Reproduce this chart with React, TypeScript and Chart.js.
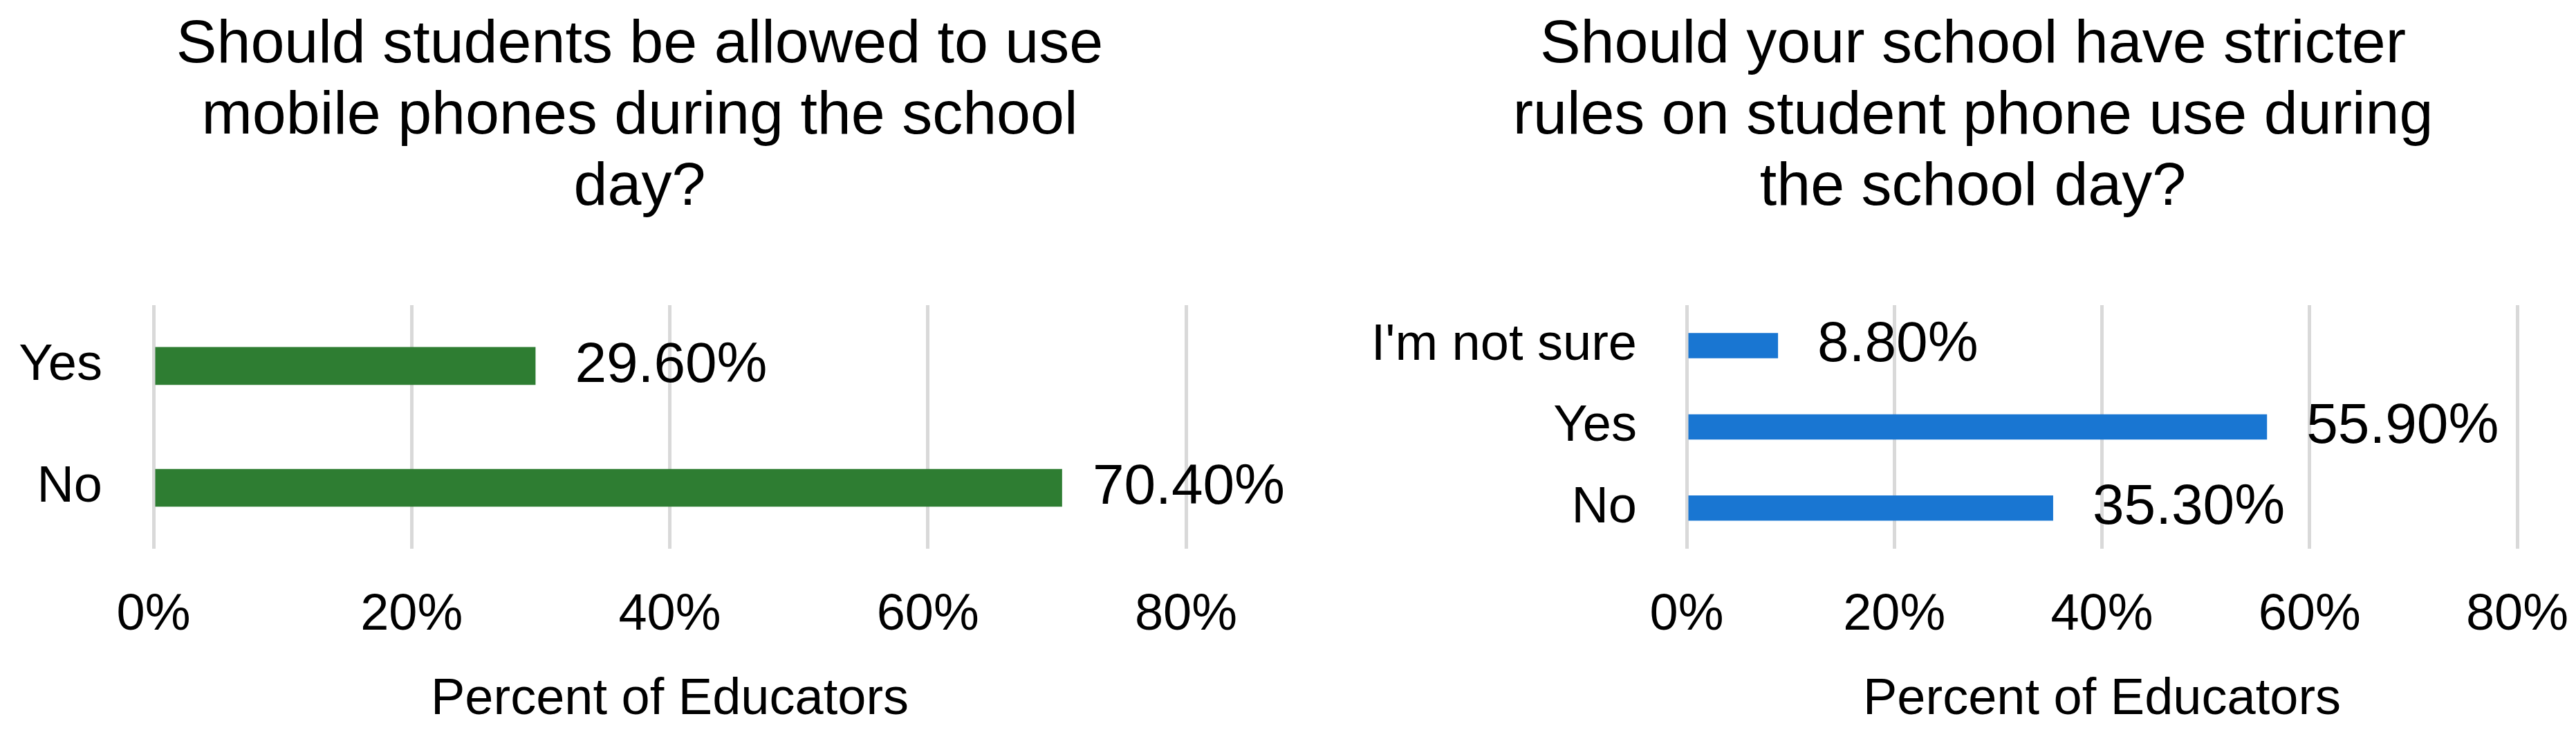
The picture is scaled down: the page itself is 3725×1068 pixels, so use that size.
import React, { useEffect, useRef } from 'react';
import { Chart, registerables } from 'chart.js';

Chart.register(...registerables);

const FONT = "'Liberation Sans', Arial, Helvetica, sans-serif";

const leftTitle = ['Should students be allowed to use', 'mobile phones during the school', 'day?'];
const leftCategories = ['Yes', 'No'];
const leftValues = [29.6, 70.4];

const rightTitle = ['Should your school have stricter', 'rules on student phone use during', 'the school day?'];
const rightCategories = ["I'm not sure", 'Yes', 'No'];
const rightValues = [8.8, 55.9, 35.3];

const xAxisTitle = 'Percent of Educators';
const xMin = 0;
const xMax = 80;
const xStep = 20;

const makeValueLabels = (maxRight: number) => ({
  id: 'valueLabels',
  afterDatasetsDraw(chart: any) {
    const ctx = chart.ctx;
    const meta = chart.getDatasetMeta(0);
    const data = chart.data.datasets[0].data;
    ctx.save();
    ctx.font = `82px ${FONT}`;
    ctx.fillStyle = '#000';
    ctx.textAlign = 'left';
    ctx.textBaseline = 'middle';
    meta.data.forEach((bar: any, i: number) => {
      const text = `${Number(data[i]).toFixed(2)}%`;
      const w = ctx.measureText(text).width;
      const x = Math.min(bar.x + 57, maxRight - w);
      ctx.fillText(text, x, bar.y);
    });
    ctx.restore();
  },
});

type PanelProps = {
  title: string[];
  categories: string[];
  values: number[];
  color: string;
  width: number;
  height: number;
  padLeft: number;
  padRight: number;
  yAxisWidth: number;
  yTickPad: number;
  rightSpace: number;
  labelMaxRight: number;
};

function Panel(p: PanelProps) {
  const ref = useRef<HTMLCanvasElement | null>(null);
  useEffect(() => {
    if (!ref.current) return;
    const chart = new Chart(ref.current, {
      type: 'bar',
      data: {
        labels: p.categories,
        datasets: [
          {
            data: p.values,
            backgroundColor: p.color,
            borderWidth: 0,
            categoryPercentage: 1,
            barPercentage: 0.31,
          },
        ],
      },
      options: {
        indexAxis: 'y',
        animation: false,
        responsive: false,
        maintainAspectRatio: false,
        devicePixelRatio: 1,
        layout: { padding: { left: p.padLeft, right: p.padRight, top: 0, bottom: 0 } },
        plugins: {
          legend: { display: false },
          tooltip: { enabled: false },
          title: {
            display: true,
            text: p.title,
            color: '#000',
            font: { family: FONT, size: 88, weight: 'normal', lineHeight: 1.17 },
            padding: { top: 14.5, bottom: 117.5 },
          },
        },
        scales: {
          x: {
            min: xMin,
            max: xMax,
            grid: {
              display: true,
              color: '#D9D9D9',
              lineWidth: 5,
              drawTicks: true,
              tickLength: 52.6,
              tickColor: 'rgba(0,0,0,0)',
            },
            border: { display: false },
            ticks: {
              stepSize: xStep,
              padding: 0,
              maxRotation: 0,
              color: '#000',
              font: { family: FONT, size: 74 },
              callback: (v: any) => `${v}%`,
            },
            title: {
              display: true,
              text: xAxisTitle,
              color: '#000',
              font: { family: FONT, size: 74 },
              padding: { top: 32.8, bottom: 12 },
            },
          },
          y: {
            grid: { display: false, drawTicks: false },
            border: { display: false },
            ticks: {
              padding: p.yTickPad,
              color: '#000',
              font: { family: FONT, size: 74 },
            },
            afterFit: (s: any) => {
              s.width = p.yAxisWidth;
            },
          },
          yR: {
            type: 'linear',
            position: 'right',
            display: true,
            grid: { display: false, drawTicks: false },
            border: { display: false },
            ticks: { display: false },
            afterFit: (s: any) => {
              s.width = p.rightSpace;
            },
          },
        },
      } as any,
      plugins: [makeValueLabels(p.labelMaxRight)],
    });
    return () => chart.destroy();
  }, []);
  return (
    <canvas
      ref={ref}
      width={p.width}
      height={p.height}
      style={{ width: p.width, height: p.height, display: 'block' }}
    />
  );
}

export default function App() {
  return (
    <div
      style={{
        position: 'fixed',
        left: 0,
        top: 0,
        width: 3725,
        height: 1068,
        background: '#fff',
        overflow: 'hidden',
      }}
    >
      <div style={{ position: 'absolute', left: 0, top: 0 }}>
        <Panel
          title={leftTitle}
          categories={leftCategories}
          values={leftValues}
          color="#2E7D32"
          width={1900}
          height={1068}
          padLeft={20}
          padRight={70}
          yAxisWidth={202}
          yTickPad={74}
          rightSpace={115}
          labelMaxRight={1858}
        />
      </div>
      <div style={{ position: 'absolute', left: 1860, top: 0 }}>
        <Panel
          title={rightTitle}
          categories={rightCategories}
          values={rightValues}
          color="#1976D2"
          width={1865}
          height={1068}
          padLeft={121}
          padRight={0}
          yAxisWidth={458}
          yTickPad={72}
          rightSpace={85}
          labelMaxRight={1865}
        />
      </div>
    </div>
  );
}
